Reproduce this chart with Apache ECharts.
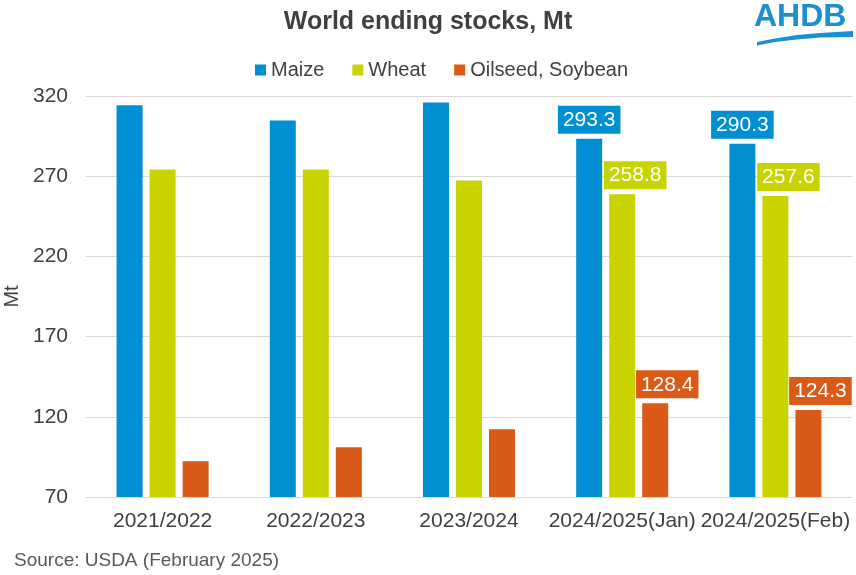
<!DOCTYPE html>
<html>
<head>
<meta charset="utf-8">
<script src="https://cdn.jsdelivr.net/npm/echarts@6/dist/echarts.min.js"></script>
<style>
html,body{margin:0;padding:0;background:#fff;}
#main{width:856px;height:575px;}
</style>
</head>
<body>
<div id="main"></div>
<script>
const categories = ['2021/2022', '2022/2023', '2023/2024', '2024/2025(Jan)', '2024/2025(Feb)'];
const maize = [314.2, 304.8, 316.0, 293.3, 290.3];
const wheat = [274.2, 274.2, 267.3, 258.8, 257.6];
const soybean = [92.3, 101.0, 112.3, 128.4, 124.3];
const seriesNames = ['Maize', 'Wheat', 'Oilseed, Soybean'];
const colors = ['#008fd3', '#c9d300', '#da5a17'];
const labelledFrom = 3;

const font = 'Liberation Sans, Arial, sans-serif';
const textColor = '#404040';

function buildData(values, color, dx) {
  return values.map((v, i) => i >= labelledFrom ? {
    value: v,
    label: {
      show: true, position: 'top', distance: 5, offset: [dx, 0],
      color: '#fff', fontSize: 21, fontFamily: font,
      backgroundColor: color, padding: [4, 5, 3, 5]
    }
  } : v);
}

const chart = echarts.init(document.getElementById('main'));
chart.setOption({
  animation: false,
  color: colors,
  title: {
    text: 'World ending stocks, Mt',
    left: 'center', top: 5,
    textStyle: {fontFamily: font, fontSize: 25, fontWeight: 'bold', color: textColor}
  },
  legend: {
    top: 55, left: 250,
    itemWidth: 11, itemHeight: 11, itemGap: 28,
    icon: 'rect',
    textStyle: {fontFamily: font, fontSize: 20, color: textColor},
    data: seriesNames
  },
  grid: {left: 86, right: 4, top: 96, bottom: 78, containLabel: false, outerBoundsMode: 'none'},
  xAxis: {
    type: 'category', data: categories,
    axisLine: {lineStyle: {color: '#d9d9d9'}},
    axisTick: {show: false},
    axisLabel: {fontFamily: font, fontSize: 21, color: textColor, margin: 14, interval: 0}
  },
  yAxis: {
    type: 'value', min: 70, max: 320, interval: 50,
    name: 'Mt', nameLocation: 'middle', nameGap: 62, nameRotate: 90,
    nameTextStyle: {fontFamily: font, fontSize: 20, color: textColor},
    axisLine: {show: false}, axisTick: {show: false},
    axisLabel: {fontFamily: font, fontSize: 21, color: textColor, margin: 18},
    splitLine: {lineStyle: {color: '#d9d9d9'}}
  },
  series: [
    {name: seriesNames[0], type: 'bar', barWidth: 26, barGap: '27%', data: buildData(maize, colors[0], 0)},
    {name: seriesNames[1], type: 'bar', barWidth: 26, barGap: '27%', data: buildData(wheat, colors[1], 13)},
    {name: seriesNames[2], type: 'bar', barWidth: 26, barGap: '27%', data: buildData(soybean, colors[2], 12)}
  ],
  graphic: [
    {type: 'text', left: 14, top: 551,
     style: {text: 'Source: USDA (February 2025)', font: '19px ' + font, fill: '#595959'}},
    {type: 'text', left: 754, top: 1,
     style: {text: 'AHDB', font: 'bold 32px ' + font, fill: '#1b8fd2'}},
    {type: 'polygon',
     shape: {points: [[757,42],[775,38.5],[797,35],[820,33],[853,31],[853,37],[820,37.5],[797,39.5],[775,42],[757,45.5]]},
     style: {fill: '#1b8fd2'}}
  ]
});
</script>
</body>
</html>
